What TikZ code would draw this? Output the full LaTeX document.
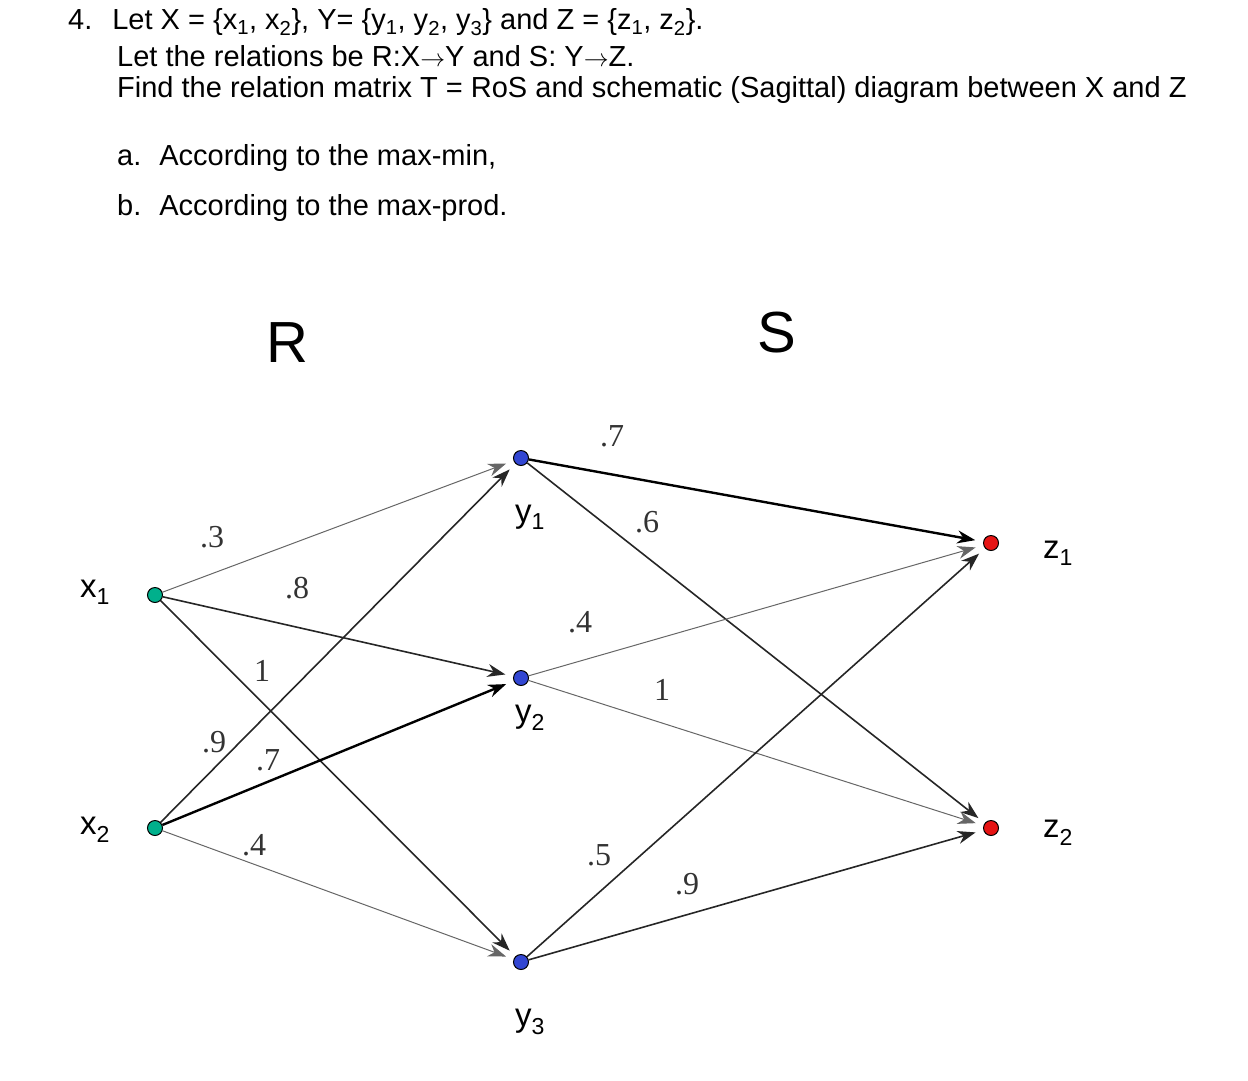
\documentclass[tikz,border=0pt]{standalone}
\usepackage{fontspec}
\setmainfont{Liberation Sans}
\newfontfamily\serif{Liberation Serif}
\usetikzlibrary{arrows.meta}
\definecolor{teal1}{RGB}{0,176,140}
\definecolor{blue1}{RGB}{50,70,210}
\definecolor{red1}{RGB}{230,20,20}
\begin{document}
\begin{tikzpicture}[x=1pt,y=-1pt,
  dot/.style={circle,draw=black,line width=1pt,inner sep=0pt,minimum size=15pt},
  lab/.style={font=\fontsize{33}{36}\selectfont},
  wt/.style={font=\serif\fontsize{32}{34}\selectfont,text=black!80},
  txt/.style={anchor=west,font=\fontsize{29}{32}\selectfont,inner sep=0pt},
  arr/.style={-{Stealth[length=18pt,width=13pt]},shorten >=8pt},
  lite/.style={arr,draw=black!60,line width=1pt},
  medium/.style={arr,draw=black!85,line width=1.6pt},
  heavy/.style={arr,draw=black,line width=2.4pt}]
\useasboundingbox (0,0) rectangle (1248,1080);
\node[txt] (h1) at (68,22) {4.\hspace{20pt}Let X = \{x\textsubscript{1}, x\textsubscript{2}\}, Y= \{y\textsubscript{1}, y\textsubscript{2}, y\textsubscript{3}\} and Z = \{z\textsubscript{1}, z\textsubscript{2}\}.};
\node[txt] (h2) at (117,56) {Let the relations be R:X$\rightarrow$Y and S: Y$\rightarrow$Z.};
\node[txt] (h3) at (117,90) {Find the relation matrix T = RoS and schematic (Sagittal) diagram between X and Z};
\node[txt] (a) at (117,158) {a.\hspace{18pt}According to the max-min,};
\node[txt] (b) at (117,208) {b.\hspace{18pt}According to the max-prod.};
\node[font=\fontsize{58}{60}\selectfont] (R) at (287,343) {R};
\node[font=\fontsize{58}{60}\selectfont] (S) at (777,333) {S};
\node[dot,fill=teal1] (x1) at (155,595) {};
\node[dot,fill=teal1] (x2) at (155,828) {};
\node[dot,fill=blue1] (y1) at (521,458) {};
\node[dot,fill=blue1] (y2) at (521,678) {};
\node[dot,fill=blue1] (y3) at (521,962) {};
\node[dot,fill=red1] (z1) at (991,543) {};
\node[dot,fill=red1] (z2) at (991,828) {};
\node[lab] (lx1) at (95,592) {x\textsubscript{1}};
\node[lab] (lx2) at (95,830) {x\textsubscript{2}};
\node[lab] (ly1) at (530,517) {y\textsubscript{1}};
\node[lab] (ly2) at (530,718) {y\textsubscript{2}};
\node[lab] (ly3) at (530,1022) {y\textsubscript{3}};
\node[lab] (lz1) at (1058,553) {z\textsubscript{1}};
\node[lab] (lz2) at (1058,833) {z\textsubscript{2}};
\draw[lite] (x1) -- (y1);
\draw[medium] (x1) -- (y2);
\draw[medium] (x1) -- (y3);
\draw[medium] (x2) -- (y1);
\draw[heavy] (x2) -- (y2);
\draw[lite] (x2) -- (y3);
\draw[heavy] (y1) -- (z1);
\draw[medium] (y1) -- (z2);
\draw[lite] (y2) -- (z1);
\draw[lite] (y2) -- (z2);
\draw[medium] (y3) -- (z1);
\draw[medium] (y3) -- (z2);
\node[wt] (w1) at (212,537) {.3};
\node[wt] (w2) at (297,588) {.8};
\node[wt] (w3) at (262,671) {1};
\node[wt] (w4) at (214,742) {.9};
\node[wt] (w5) at (268,760) {.7};
\node[wt] (w6) at (254,845) {.4};
\node[wt] (w7) at (612,436) {.7};
\node[wt] (w8) at (647,522) {.6};
\node[wt] (w9) at (580,622) {.4};
\node[wt] (w10) at (662,690) {1};
\node[wt] (w11) at (599,855) {.5};
\node[wt] (w12) at (687,884) {.9};
\end{tikzpicture}
\end{document}
